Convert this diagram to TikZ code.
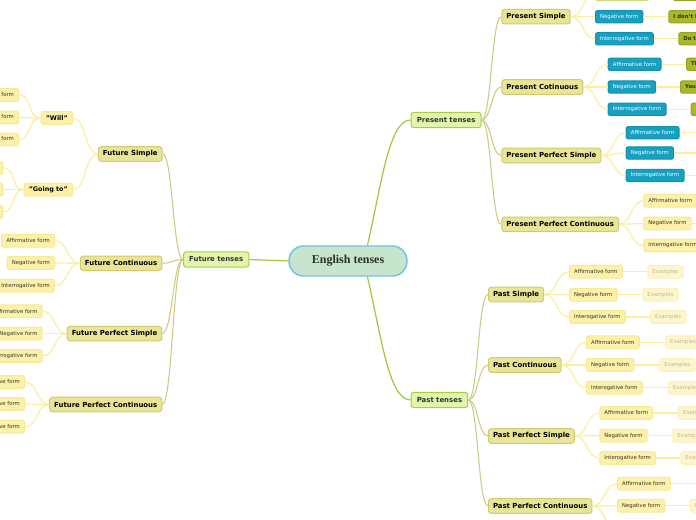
\documentclass[tikz,border=0pt]{standalone}
\usepackage{fontspec}
\setmainfont{DejaVu Sans}
\newfontfamily\topicfont{Liberation Serif}

\tikzset{every picture/.style={line width=0.75pt}}
\tikzset{
  topicbox/.style={draw={rgb,255:red,112;green,196;blue,232}, fill={rgb,255:red,199;green,229;blue,205}, line width=1.1pt, rounded corners=11pt, minimum width=88.5pt, minimum height=22.5pt, inner sep=0pt, text={rgb,255:red,40;green,48;blue,40}, font=\topicfont\bfseries\fontsize{9}{10}\selectfont},
  tensebox/.style={draw={rgb,255:red,168;green,204;blue,70}, fill={rgb,255:red,227;green,245;blue,170}, rounded corners=2pt, minimum height=11.5pt, inner xsep=4.2pt, inner ysep=0pt, text={rgb,255:red,51;green,51;blue,51}, font=\bfseries\fontsize{5.2}{6}\selectfont},
  kindbox/.style={draw={rgb,255:red,208;green,202;blue,115}, fill={rgb,255:red,232;green,229;blue,150}, rounded corners=2pt, minimum height=10.9pt, inner xsep=3.4pt, inner ysep=0pt, text=black, font=\bfseries\fontsize{5.2}{6}\selectfont},
  pformbox/.style={draw={rgb,255:red,22;green,142;blue,173}, fill={rgb,255:red,24;green,160;blue,192}, rounded corners=1.5pt, minimum height=9.2pt, inner xsep=3.5pt, inner ysep=0pt, text=white, font=\fontsize{4}{5}\selectfont},
  formbox/.style={draw={rgb,255:red,248;green,233;blue,150}, fill={rgb,255:red,252;green,241;blue,168}, rounded corners=1.5pt, minimum height=9.5pt, inner xsep=3.5pt, inner ysep=0pt, text={rgb,255:red,51;green,51;blue,51}, font=\fontsize{4}{5}\selectfont},
  verbbox/.style={formbox, text=black, font=\bfseries\fontsize{4.8}{5}\selectfont},
  samplebox/.style={draw={rgb,255:red,250;green,240;blue,190}, fill={rgb,255:red,253;green,246;blue,205}, rounded corners=1.5pt, minimum height=9.5pt, inner xsep=3.5pt, inner ysep=0pt, text={rgb,255:red,190;green,182;blue,140}, font=\fontsize{4}{5}\selectfont},
  quotebox/.style={draw={rgb,255:red,150;green,165;blue,35}, fill={rgb,255:red,168;green,184;blue,40}, rounded corners=1.5pt, minimum height=9.2pt, inner xsep=3.5pt, inner ysep=0pt, text={rgb,255:red,45;green,50;blue,15}, font=\bfseries\fontsize{4}{5}\selectfont},
  trunkline/.style={draw={rgb,255:red,160;green,200;blue,60}, line width=0.9pt},
  limbline/.style={draw={rgb,255:red,206;green,201;blue,135}, line width=0.8pt},
  twigline/.style={draw={rgb,255:red,251;green,238;blue,160}, line width=0.9pt},
  sway/.style={to path={.. controls +(#1,0) and +(-1*#1,0) .. (\tikztotarget)}},
}

\begin{document}
\begin{tikzpicture}[x=0.75pt,y=0.75pt,yscale=-1,xscale=1]
		\useasboundingbox (0,0) rectangle (696,520);
		\clip (0,0) rectangle (696,520);

		% Text Node
		\draw (348,261) node [topicbox] (eng) {English tenses};
		% Text Node
		\draw (410.7,120) node [anchor=west][tensebox] (pres) {Present tenses};
		% Text Node
		\draw (410.7,400) node [anchor=west][tensebox] (past) {Past tenses};
		% Text Node
		\draw (249.3,259.5) node [anchor=east][tensebox] (fut) {Future tenses};

		% Text Node
		\draw (501.3,16.7) node [anchor=west][kindbox] (ps) {Present Simple};
		% Text Node
		\draw (501.3,87) node [anchor=west][kindbox] (pc) {Present Cotinuous};
		% Text Node
		\draw (501.3,155.5) node [anchor=west][kindbox] (pps) {Present Perfect Simple};
		% Text Node
		\draw (501.3,224.3) node [anchor=west][kindbox] (ppc) {Present Perfect Continuous};
		% Text Node
		\draw (488,294.5) node [anchor=west][kindbox] (pas) {Past Simple};
		% Text Node
		\draw (488,365) node [anchor=west][kindbox] (pac) {Past Continuous};
		% Text Node
		\draw (488,436) node [anchor=west][kindbox] (paps) {Past Perfect Simple};
		% Text Node
		\draw (488,506) node [anchor=west][kindbox] (papc) {Past Perfect Continuous};
		% Text Node
		\draw (162.7,154) node [anchor=east][kindbox] (fs) {Future Simple};
		% Text Node
		\draw (162.3,263.3) node [anchor=east][kindbox] (fc) {Future Continuous};
		% Text Node
		\draw (162.3,333.7) node [anchor=east][kindbox] (fps) {Future Perfect Simple};
		% Text Node
		\draw (162.3,404.5) node [anchor=east][kindbox] (fpc) {Future Perfect Continuous};

		% Text Node
		\draw (595,-5.4) node [anchor=west][pformbox, fill={rgb,255:red,227;green,240;blue,170}, draw={rgb,255:red,200;green,220;blue,120}] (psA) {Affirmative form};
		% Text Node
		\draw (595,16.7) node [anchor=west][pformbox] (psN) {Negative form};
		% Text Node
		\draw (595,38.8) node [anchor=west][pformbox] (psI) {Interrogative form};
		% Text Node
		\draw (673,-5.4) node [anchor=west][quotebox, fill={rgb,255:red,250;green,240;blue,170}] (psAq) {I like};
		% Text Node
		\draw (668.3,16.7) node [anchor=west][quotebox] (psNq) {I don't like};
		% Text Node
		\draw (678.3,38.8) node [anchor=west][quotebox] (psIq) {Do they};

		% Text Node
		\draw (607.7,64.3) node [anchor=west][pformbox] (pcA) {Affirmative form};
		% Text Node
		\draw (607.7,87) node [anchor=west][pformbox] (pcN) {Negative form};
		% Text Node
		\draw (607.7,109.3) node [anchor=west][pformbox] (pcI) {Interrogative form};
		% Text Node
		\draw (686,64.3) node [anchor=west][quotebox] (pcAq) {They are};
		% Text Node
		\draw (680,87) node [anchor=west][quotebox] (pcNq) {You are};
		% Text Node
		\draw (690.7,109.3) node [anchor=west][quotebox] (pcIq) {Is};

		% Text Node
		\draw (625.7,132.7) node [anchor=west][pformbox] (ppsA) {Affirmative form};
		% Text Node
		\draw (625.7,153) node [anchor=west][pformbox] (ppsN) {Negative form};
		% Text Node
		\draw (625.7,175.5) node [anchor=west][pformbox] (ppsI) {Interrogative form};
		\coordinate (ppsAe) at (700,132.7);
		\coordinate (ppsNe) at (700,153);
		\coordinate (ppsIe) at (700,175.5);

		% Text Node
		\draw (643.3,200.8) node [anchor=west][formbox] (ppcA) {Affirmative form};
		% Text Node
		\draw (643.3,223.5) node [anchor=west][formbox] (ppcN) {Negative form};
		% Text Node
		\draw (643.3,245.5) node [anchor=west][formbox] (ppcI) {Interrogative form};
		\coordinate (ppcAe) at (700,200.8);
		\coordinate (ppcNe) at (700,223.5);
		\coordinate (ppcIe) at (700,245.5);

		% Text Node
		\draw (569,271.8) node [anchor=west][formbox] (pasA) {Affirmative form};
		% Text Node
		\draw (569,294.8) node [anchor=west][formbox] (pasN) {Negative form};
		% Text Node
		\draw (569,317) node [anchor=west][formbox] (pasI) {Interogative form};
		% Text Node
		\draw (647.3,271.8) node [anchor=west][samplebox] (pasAx) {Examples};
		% Text Node
		\draw (642.3,294.8) node [anchor=west][samplebox] (pasNx) {Examples};
		% Text Node
		\draw (650,317) node [anchor=west][samplebox] (pasIx) {Examples};

		% Text Node
		\draw (586,342.3) node [anchor=west][formbox] (pacA) {Affirmative form};
		% Text Node
		\draw (586,365) node [anchor=west][formbox] (pacN) {Negative form};
		% Text Node
		\draw (586,387.7) node [anchor=west][formbox] (pacI) {Interogative form};
		% Text Node
		\draw (665,342.3) node [anchor=west][samplebox] (pacAx) {Examples};
		% Text Node
		\draw (659.3,365) node [anchor=west][samplebox] (pacNx) {Examples};
		% Text Node
		\draw (667.7,387.7) node [anchor=west][samplebox] (pacIx) {Examples};

		% Text Node
		\draw (599.3,413) node [anchor=west][formbox] (papsA) {Affirmative form};
		% Text Node
		\draw (599.3,435.7) node [anchor=west][formbox] (papsN) {Negative form};
		% Text Node
		\draw (599.3,458) node [anchor=west][formbox] (papsI) {Interogative form};
		% Text Node
		\draw (678,413) node [anchor=west][samplebox] (papsAx) {Examples};
		% Text Node
		\draw (672.3,435.7) node [anchor=west][samplebox] (papsNx) {Examples};
		% Text Node
		\draw (680.3,458) node [anchor=west][samplebox] (papsIx) {Examples};

		% Text Node
		\draw (617,483.7) node [anchor=west][formbox] (papcA) {Affirmative form};
		% Text Node
		\draw (617,505.8) node [anchor=west][formbox] (papcN) {Negative form};
		\coordinate (papcI) at (617,530);
		\coordinate (papcAe) at (700,483.7);
		% Text Node
		\draw (690,505.8) node [anchor=west][samplebox] (papcNx) {Examples};

		% Text Node
		\draw (73,118) node [anchor=east][verbbox] (will) {"Will"};
		% Text Node
		\draw (73,189.8) node [anchor=east][verbbox] (goto) {"Going to"};
		% Text Node
		\draw (19,95) node [anchor=east][formbox] (willA) {Affirmative form};
		% Text Node
		\draw (19,117.5) node [anchor=east][formbox] (willN) {Negative form};
		% Text Node
		\draw (19,139.5) node [anchor=east][formbox] (willI) {Interrogative form};
		% Text Node
		\draw (3.3,168) node [anchor=east][formbox] (gotoA) {Affirmative form};
		% Text Node
		\draw (3.3,189.8) node [anchor=east][formbox] (gotoN) {Negative form};
		% Text Node
		\draw (3.3,212) node [anchor=east][formbox] (gotoI) {Interrogative form};

		% Text Node
		\draw (55,240.8) node [anchor=east][formbox] (fcA) {Affirmative form};
		% Text Node
		\draw (55,263) node [anchor=east][formbox] (fcN) {Negative form};
		% Text Node
		\draw (55,285.7) node [anchor=east][formbox] (fcI) {Interrogative form};
		% Text Node
		\draw (42.7,311.3) node [anchor=east][formbox] (fpsA) {Affirmative form};
		% Text Node
		\draw (42.7,333.7) node [anchor=east][formbox] (fpsN) {Negative form};
		% Text Node
		\draw (42.7,356) node [anchor=east][formbox] (fpsI) {Interrogative form};
		% Text Node
		\draw (25,382) node [anchor=east][formbox] (fpcA) {Affirmative form};
		% Text Node
		\draw (25,404) node [anchor=east][formbox] (fpcN) {Negative form};
		% Text Node
		\draw (25,426.7) node [anchor=east][formbox] (fpcI) {Interrogative form};

		% Curve Lines
		\draw [trunkline] (eng.39) .. controls +(14,-60) and +(-22,0) .. (pres.west);
		\draw [trunkline] (eng.-39) .. controls +(14,60) and +(-22,0) .. (past.west);
		% Straight Lines
		\draw [trunkline] (eng.west) -- (fut.east);

		% Curve Lines
		\draw [limbline] (pres.east) to [sway=10] (ps.west);
		\draw [limbline] (pres.east) to [sway=10] (pc.west);
		\draw [limbline] (pres.east) to [sway=10] (pps.west);
		\draw [limbline] (pres.east) to [sway=10] (ppc.west);
		\draw [limbline] (past.east) to [sway=10] (pas.west);
		\draw [limbline] (past.east) to [sway=10] (pac.west);
		\draw [limbline] (past.east) to [sway=10] (paps.west);
		\draw [limbline] (past.east) to [sway=10] (papc.west);
		\draw [limbline] (fut.west) to [sway=-10] (fs.east);
		\draw [limbline] (fut.west) to [sway=-10] (fc.east);
		\draw [limbline] (fut.west) to [sway=-10] (fps.east);
		\draw [limbline] (fut.west) to [sway=-10] (fpc.east);

		% Curve Lines
		\draw [twigline] (ps.east) to [sway=13] (psA.west);
		\draw [twigline] (ps.east) to [sway=13] (psN.west);
		\draw [twigline] (ps.east) to [sway=13] (psI.west);
		\draw [twigline] (pc.east) to [sway=13] (pcA.west);
		\draw [twigline] (pc.east) to [sway=13] (pcN.west);
		\draw [twigline] (pc.east) to [sway=13] (pcI.west);
		\draw [twigline] (pps.east) to [sway=13] (ppsA.west);
		\draw [twigline] (pps.east) to [sway=13] (ppsN.west);
		\draw [twigline] (pps.east) to [sway=13] (ppsI.west);
		\draw [twigline] (ppc.east) to [sway=13] (ppcA.west);
		\draw [twigline] (ppc.east) to [sway=13] (ppcN.west);
		\draw [twigline] (ppc.east) to [sway=13] (ppcI.west);
		\draw [twigline] (pas.east) to [sway=13] (pasA.west);
		\draw [twigline] (pas.east) to [sway=13] (pasN.west);
		\draw [twigline] (pas.east) to [sway=13] (pasI.west);
		\draw [twigline] (pac.east) to [sway=13] (pacA.west);
		\draw [twigline] (pac.east) to [sway=13] (pacN.west);
		\draw [twigline] (pac.east) to [sway=13] (pacI.west);
		\draw [twigline] (paps.east) to [sway=13] (papsA.west);
		\draw [twigline] (paps.east) to [sway=13] (papsN.west);
		\draw [twigline] (paps.east) to [sway=13] (papsI.west);
		\draw [twigline] (papc.east) to [sway=13] (papcA.west);
		\draw [twigline] (papc.east) to [sway=13] (papcN.west);
		\draw [twigline] (papc.east) to [sway=13] (papcI);
		\draw [twigline] (fs.west) to [sway=-13] (will.east);
		\draw [twigline] (fs.west) to [sway=-13] (goto.east);
		\draw [twigline] (will.west) to [sway=-13] (willA.east);
		\draw [twigline] (will.west) to [sway=-13] (willN.east);
		\draw [twigline] (will.west) to [sway=-13] (willI.east);
		\draw [twigline] (goto.west) to [sway=-13] (gotoA.east);
		\draw [twigline] (goto.west) to [sway=-13] (gotoN.east);
		\draw [twigline] (goto.west) to [sway=-13] (gotoI.east);
		\draw [twigline] (fc.west) to [sway=-13] (fcA.east);
		\draw [twigline] (fc.west) to [sway=-13] (fcN.east);
		\draw [twigline] (fc.west) to [sway=-13] (fcI.east);
		\draw [twigline] (fps.west) to [sway=-13] (fpsA.east);
		\draw [twigline] (fps.west) to [sway=-13] (fpsN.east);
		\draw [twigline] (fps.west) to [sway=-13] (fpsI.east);
		\draw [twigline] (fpc.west) to [sway=-13] (fpcA.east);
		\draw [twigline] (fpc.west) to [sway=-13] (fpcN.east);
		\draw [twigline] (fpc.west) to [sway=-13] (fpcI.east);

		% Straight Lines
		\draw [twigline] (psA.east) -- (psAq.west);
		\draw [twigline] (psN.east) -- (psNq.west);
		\draw [twigline] (psI.east) -- (psIq.west);
		\draw [twigline] (pcA.east) -- (pcAq.west);
		\draw [twigline] (pcN.east) -- (pcNq.west);
		\draw [twigline] (pcI.east) -- (pcIq.west);
		\draw [twigline] (ppsA.east) -- (ppsAe);
		\draw [twigline] (ppsN.east) -- (ppsNe);
		\draw [twigline] (ppsI.east) -- (ppsIe);
		\draw [twigline] (ppcA.east) -- (ppcAe);
		\draw [twigline] (ppcN.east) -- (ppcNe);
		\draw [twigline] (ppcI.east) -- (ppcIe);
		\draw [twigline] (pasA.east) -- (pasAx.west);
		\draw [twigline] (pasN.east) -- (pasNx.west);
		\draw [twigline] (pasI.east) -- (pasIx.west);
		\draw [twigline] (pacA.east) -- (pacAx.west);
		\draw [twigline] (pacN.east) -- (pacNx.west);
		\draw [twigline] (pacI.east) -- (pacIx.west);
		\draw [twigline] (papsA.east) -- (papsAx.west);
		\draw [twigline] (papsN.east) -- (papsNx.west);
		\draw [twigline] (papsI.east) -- (papsIx.west);
		\draw [twigline] (papcA.east) -- (papcAe);
		\draw [twigline] (papcN.east) -- (papcNx.west);
	\end{tikzpicture}
\end{document}
